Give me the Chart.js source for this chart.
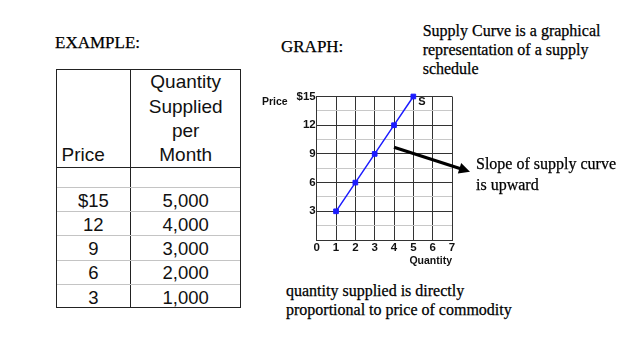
<!DOCTYPE html>
<html><head><meta charset="utf-8">
<script src="https://cdn.jsdelivr.net/npm/chart.js@4.4.1/dist/chart.umd.min.js"></script>
<style>
html,body{margin:0;padding:0;background:#fff;}
#page{position:relative;width:638px;height:359px;overflow:hidden;background:#fff;}
.serif{position:absolute;font-family:'Liberation Serif','Times New Roman',serif;font-size:16px;color:#000;white-space:nowrap;z-index:2;-webkit-text-stroke:0.25px #000;}
.sans{position:absolute;font-family:'Liberation Sans',Arial,sans-serif;font-size:19px;line-height:24px;color:#111;white-space:nowrap;}
.ln{position:absolute;}
#c{position:absolute;left:250px;top:85px;z-index:1;}
</style>
</head>
<body>
<div id="page">
  <div class="serif" style="left:55px;top:33px;font-size:17px;line-height:20px;">EXAMPLE:</div>
  <div class="serif" style="left:281px;top:36.5px;font-size:17px;line-height:20px;">GRAPH:</div>
  <div class="serif" style="left:422.7px;top:20.8px;line-height:19px;">Supply Curve is a graphical<br>representation of a supply<br>schedule</div>
  <div class="serif" style="left:476px;top:153.1px;line-height:21px;">Slope of supply curve<br>is upward</div>
  <div class="serif" style="left:286px;top:282px;line-height:18.5px;">quantity supplied is directly<br>proportional to price of commodity</div>
  <div id="table"></div>
  <canvas id="c" width="240" height="190"></canvas>
</div>
<script>
// ---- data ----
const tablePrices = ['$15', '12', '9', '6', '3'];
const tableQuantities = ['5,000', '4,000', '3,000', '2,000', '1,000'];
const tableHeaderPrice = 'Price';
const tableHeaderQuantity = ['Quantity', 'Supplied', 'per', 'Month'];
const graphQuantity = [1, 2, 3, 4, 5];
const graphPrice = [3, 6, 9, 12, 15];
const xTickLabels = ['0', '1', '2', '3', '4', '5', '6', '7'];
const yTickValues = [3, 6, 9, 12, 15];
const yTickText = ['3', '6', '9', '12', '$15'];
const seriesLabel = 'S';

// ---- table (HTML) ----
(function buildTable(){
  const host = document.getElementById('table');
  const L = 56, T = 69, R = 240.7, B = 308.3, divX = 130.7, headB = 167.3;
  const emptyRowB = 187.7, rowH = 24.1;
  const add = (html) => host.insertAdjacentHTML('beforeend', html);
  add(`<div class="ln" style="left:${L}px;top:${T}px;width:${R-L}px;height:${B-T}px;border:1.5px solid #222;box-sizing:border-box;"></div>`);
  add(`<div class="ln" style="left:${divX-0.75}px;top:${T}px;width:1.5px;height:${B-T}px;background:#222;"></div>`);
  add(`<div class="ln" style="left:${L}px;top:${headB-0.75}px;width:${R-L}px;height:1.5px;background:#222;"></div>`);
  const seps = [emptyRowB];
  for (let i = 1; i < tablePrices.length; i++) seps.push(emptyRowB + i*rowH);
  seps.forEach(y => add(`<div class="ln" style="left:${L+1}px;top:${y-0.5}px;width:${R-L-2}px;height:1px;background:#c4c4c4;"></div>`));
  add(`<div class="sans" style="left:61.5px;top:${161.7-18.6}px;">${tableHeaderPrice}</div>`);
  add(`<div class="sans" style="left:${divX}px;width:${R-divX}px;text-align:center;top:${89-18.7}px;line-height:24.2px;">${tableHeaderQuantity.join('<br>')}</div>`);
  tablePrices.forEach((p, i) => {
    const top = emptyRowB + i*rowH;
    const base = top + 20;
    add(`<div class="sans" style="left:${L}px;width:${divX-L}px;text-align:center;top:${base-18.6}px;font-size:18.5px;">${p}</div>`);
    add(`<div class="sans" style="left:${divX}px;width:${R-divX}px;text-align:center;top:${base-18.6}px;font-size:18.5px;">${tableQuantities[i]}</div>`);
  });
})();

// ---- chart ----
const SANS = "'Liberation Sans', Arial, sans-serif";
const DARK = '#333333', LIGHT = '#c8c8c8', BLUE = '#1c1cff';
const arrowFrom = {x: 4.0, y: 9.7};
const arrowTo = {x: 7.93, y: 7.14};

const annot = {
  id: 'annot',
  afterDraw(chart) {
    const {ctx, scales: {x, y}} = chart;
    ctx.save();
    ctx.fillStyle = '#111';
    ctx.font = `bold 10.5px ${SANS}`;
    ctx.textBaseline = 'middle';
    ctx.textAlign = 'left';
    ctx.fillText('Price', 12, 17.5);
    const n = graphQuantity.length - 1;
    const px = x.getPixelForValue(graphQuantity[n]);
    const py = y.getPixelForValue(graphPrice[n]);
    ctx.font = `bold 11px ${SANS}`;
    ctx.fillText(seriesLabel, px + 5, py + 5.8);
    const x0 = x.getPixelForValue(arrowFrom.x), y0 = y.getPixelForValue(arrowFrom.y);
    const x1 = x.getPixelForValue(arrowTo.x), y1 = y.getPixelForValue(arrowTo.y);
    const ang = Math.atan2(y1 - y0, x1 - x0);
    const hl = 11, hw = 5.5;
    const bx = x1 - hl * Math.cos(ang), by = y1 - hl * Math.sin(ang);
    ctx.strokeStyle = '#000';
    ctx.lineWidth = 3.2;
    ctx.beginPath(); ctx.moveTo(x0, y0); ctx.lineTo(bx + 2*Math.cos(ang), by + 2*Math.sin(ang)); ctx.stroke();
    ctx.fillStyle = '#000';
    ctx.beginPath();
    ctx.moveTo(x1, y1);
    ctx.lineTo(bx - hw * Math.sin(ang), by + hw * Math.cos(ang));
    ctx.lineTo(bx + hw * Math.sin(ang), by - hw * Math.cos(ang));
    ctx.closePath(); ctx.fill();
    ctx.restore();
  }
};

new Chart(document.getElementById('c'), {
  type: 'scatter',
  data: {
    datasets: [{
      label: seriesLabel,
      data: graphQuantity.map((q, i) => ({x: q, y: graphPrice[i]})),
      showLine: true,
      borderColor: BLUE,
      backgroundColor: BLUE,
      borderWidth: 1.5,
      pointStyle: 'rect',
      pointRadius: 3.3,
      pointBorderWidth: 1,
      pointBorderColor: BLUE,
      pointBackgroundColor: BLUE,
      clip: false
    }]
  },
  options: {
    responsive: false,
    animation: false,
    events: [],
    layout: {padding: {top: 11.5, right: 38, left: 0, bottom: 0}},
    plugins: {legend: {display: false}, tooltip: {enabled: false}},
    scales: {
      x: {
        type: 'linear', min: 0, max: 7,
        afterFit(s) { s.height = 35; },
        ticks: {
          stepSize: 1, padding: 1, autoSkip: false, maxRotation: 0, color: '#111',
          font: {family: SANS, size: 11.5, weight: 'bold'},
          callback: (v) => { const i = Math.round(v); return Math.abs(v - i) < 1e-6 && xTickLabels[i] !== undefined ? xTickLabels[i] : ''; }
        },
        grid: {color: DARK, lineWidth: 1, drawTicks: false},
        border: {color: DARK, width: 1},
        title: {display: true, text: 'Quantity', align: 'end', color: '#111', padding: {top: 0, bottom: 7.5},
          font: {family: SANS, size: 10.5, weight: 'bold'}}
      },
      y: {
        type: 'linear', min: 0, max: 15,
        afterFit(s) { s.width = 66.7; },
        ticks: {
          stepSize: 1.5, padding: 1, autoSkip: false, color: '#111',
          font: {family: SANS, size: 11.5, weight: 'bold'},
          callback: (v) => { const i = yTickValues.findIndex(t => Math.abs(t - v) < 1e-6); return i >= 0 ? yTickText[i] : ''; }
        },
        grid: {
          drawTicks: false, lineWidth: 1,
          color: (c) => { const v = c.tick ? c.tick.value : 0; return Math.abs(v / 3 - Math.round(v / 3)) < 1e-6 ? DARK : LIGHT; }
        },
        border: {color: DARK, width: 1}
      }
    }
  },
  plugins: [annot]
});
</script>
</body></html>
